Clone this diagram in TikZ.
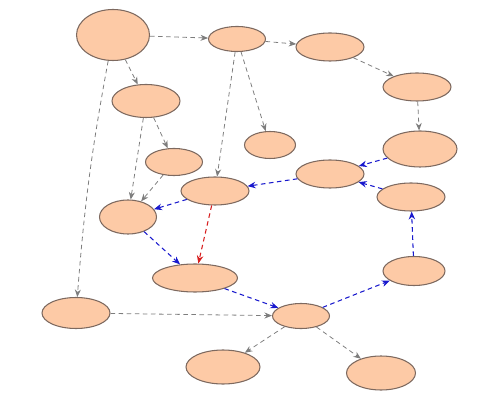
\documentclass[tikz,border=0pt]{standalone}
\usepackage{tikz}
\usetikzlibrary{shapes.geometric, arrows.meta}
\definecolor{peach}{RGB}{253, 202, 166}
\definecolor{rimbrown}{RGB}{125, 105, 95}
\definecolor{edgegray}{RGB}{125, 125, 125}
\definecolor{edgeblue}{RGB}{25, 25, 205}
\definecolor{edgered}{RGB}{215, 30, 30}
\tikzset{
  >=Stealth,
  blob/.style={ellipse, draw=rimbrown, fill=peach, line width=0.6pt, inner sep=0pt},
  edge_gray/.style={-{Stealth[length=1.5mm, width=1.2mm]}, line width=0.45pt, edgegray, dash pattern=on 2.6pt off 2pt},
  edge_blue/.style={-{Stealth[length=1.6mm, width=1.3mm]}, line width=0.6pt, edgeblue, dash pattern=on 2.6pt off 2pt},
  edge_red/.style={-{Stealth[length=1.6mm, width=1.3mm]}, line width=0.6pt, edgered, dash pattern=on 2.6pt off 2pt}
}
\begin{document}
\begin{tikzpicture}
    \useasboundingbox (0, 0) rectangle (10, 8);
    \node (root) [blob, minimum width=1.46cm, minimum height=1.02cm] at (2.26, 7.30) {};
    \node (b1) [blob, minimum width=1.14cm, minimum height=0.50cm] at (4.74, 7.22) {};
    \node (b2) [blob, minimum width=1.36cm, minimum height=0.56cm] at (6.60, 7.06) {};
    \node (b3) [blob, minimum width=1.36cm, minimum height=0.56cm] at (8.34, 6.26) {};
    \node (b4) [blob, minimum width=1.48cm, minimum height=0.72cm] at (8.40, 5.02) {};
    \node (leaf) [blob, minimum width=1.02cm, minimum height=0.54cm] at (5.40, 5.10) {};
    \node (c1) [blob, minimum width=1.36cm, minimum height=0.56cm] at (6.60, 4.52) {};
    \node (c2) [blob, minimum width=1.36cm, minimum height=0.56cm] at (8.22, 4.06) {};
    \node (l1) [blob, minimum width=1.36cm, minimum height=0.66cm] at (2.92, 5.98) {};
    \node (l2) [blob, minimum width=1.14cm, minimum height=0.54cm] at (3.48, 4.76) {};
    \node (mid) [blob, minimum width=1.36cm, minimum height=0.56cm] at (4.30, 4.18) {};
    \node (l3) [blob, minimum width=1.14cm, minimum height=0.68cm] at (2.56, 3.66) {};
    \node (low) [blob, minimum width=1.70cm, minimum height=0.56cm] at (3.90, 2.44) {};
    \node (side) [blob, minimum width=1.36cm, minimum height=0.62cm] at (1.52, 1.74) {};
    \node (hub) [blob, minimum width=1.14cm, minimum height=0.50cm] at (6.02, 1.68) {};
    \node (c3) [blob, minimum width=1.24cm, minimum height=0.58cm] at (8.28, 2.58) {};
    \node (out1) [blob, minimum width=1.48cm, minimum height=0.68cm] at (4.46, 0.66) {};
    \node (out2) [blob, minimum width=1.38cm, minimum height=0.68cm] at (7.62, 0.54) {};

    % gray tree edges
    \draw[edge_gray] (root) -- (b1);
    \draw[edge_gray] (root) -- (l1);
    \draw[edge_gray, bend right=3] (root) to (side);
    \draw[edge_gray] (b1) -- (b2);
    \draw[edge_gray] (b1) -- (leaf);
    \draw[edge_gray] (b1) -- (mid);
    \draw[edge_gray] (b2) -- (b3);
    \draw[edge_gray] (b3) -- (b4);
    \draw[edge_gray] (l1) -- (l2);
    \draw[edge_gray] (l1) -- (l3);
    \draw[edge_gray] (l2) -- (l3);
    \draw[edge_gray] (side) -- (hub);
    \draw[edge_gray] (hub) -- (out1);
    \draw[edge_gray] (hub) -- (out2);

    % blue cycle
    \draw[edge_blue] (b4) -- (c1);
    \draw[edge_blue] (c2) -- (c1);
    \draw[edge_blue] (c1) -- (mid);
    \draw[edge_blue] (mid) -- (l3);
    \draw[edge_blue] (l3) -- (low);
    \draw[edge_blue] (low) -- (hub);
    \draw[edge_blue] (hub) -- (c3);
    \draw[edge_blue] (c3) -- (c2);
    \draw[edge_red] (mid) -- (low);
\end{tikzpicture}
\end{document}
